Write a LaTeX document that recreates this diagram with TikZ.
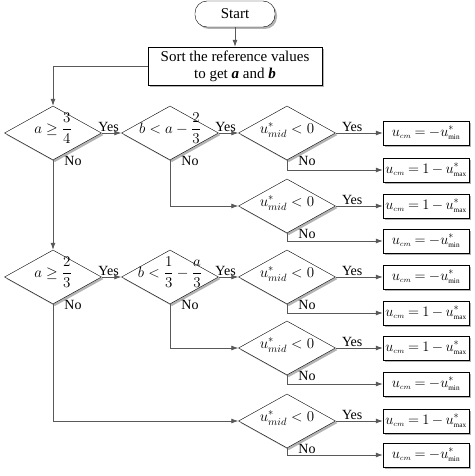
\RequirePackage{fix-cm}
\documentclass[tikz,border=0pt]{standalone}
\usepackage{amsmath}
\usepackage{fontspec}
\setmainfont{Liberation Serif}
\usetikzlibrary{positioning, shapes.geometric, shadows, arrows.meta}
\newcommand{\dtext}[1]{\smash{\makebox[0pt]{#1}}}
\newcommand{\tinysub}[1]{{\scriptscriptstyle #1}}

\begin{document}
\begin{tikzpicture}[x=1pt, y=-1pt,
font=\fontsize{15}{17}\selectfont,
shade/.style={drop shadow={shadow xshift=2pt, shadow yshift=-2pt, fill=black!50, opacity=0.6}},
terminal/.style={rectangle, rounded corners=12pt, draw, fill=white, minimum width=80pt, minimum height=26pt, shade},
process/.style={rectangle, align=center, draw, fill=white, minimum width=174pt, minimum height=38pt, inner sep=1pt, shade},
decision/.style={diamond, draw, fill=white, minimum width=97pt, minimum height=54pt, inner sep=0pt, shade},
result/.style={rectangle, draw, fill=white, minimum width=86pt, minimum height=24pt, inner sep=0pt, shade,
  font=\fontsize{14.5}{16}\selectfont, execute at begin node={\thickmuskip=4mu\medmuskip=3mu}},
flow/.style={-{Latex[length=7pt,width=5pt]}, draw=black!65, line width=0.8pt},
yeslabel/.style={above, pos=0.35, inner sep=1pt, font=\fontsize{14}{16}\selectfont},
nolabel/.style={pos=0, anchor=west, xshift=10pt, yshift=-1pt, inner sep=1pt, font=\fontsize{14}{16}\selectfont},
]
\useasboundingbox (0,0) rectangle (474,476);

%Nodes
\node [terminal] (start) at (235,14) {Start};
\node [process] (sort) at (235,66) {Sort the reference values\\to get \textbf{\textit{a}} and \textbf{\textit{b}}};

\node [decision] (d1) at (53,133) {\dtext{$a\geq\dfrac{3}{4}$}};
\node [decision] (d2) at (170,133) {\dtext{$b<a-\dfrac{2}{3}$}};
\node [decision] (d3) at (287,133) {\dtext{$u^{*}_{mid}<0$}};
\node [decision] (d4) at (287,206) {\dtext{$u^{*}_{mid}<0$}};
\node [decision] (d5) at (53,277) {\dtext{$a\geq\dfrac{2}{3}$}};
\node [decision] (d6) at (170,277) {\dtext{$b<\dfrac{1}{3}-\dfrac{a}{3}$}};
\node [decision] (d7) at (287,277) {\dtext{$u^{*}_{mid}<0$}};
\node [decision] (d8) at (287,348) {\dtext{$u^{*}_{mid}<0$}};
\node [decision] (d9) at (287,421) {\dtext{$u^{*}_{mid}<0$}};

\node [result] (r1) at (426,133) {$u_{\tinysub{cm}}=-u^{*}_{\tinysub{\min}}$};
\node [result] (r2) at (426,170) {$u_{\tinysub{cm}}=1-u^{*}_{\tinysub{\max}}$};
\node [result] (r3) at (426,206) {$u_{\tinysub{cm}}=1-u^{*}_{\tinysub{\max}}$};
\node [result] (r4) at (426,241) {$u_{\tinysub{cm}}=-u^{*}_{\tinysub{\min}}$};
\node [result] (r5) at (426,277) {$u_{\tinysub{cm}}=-u^{*}_{\tinysub{\min}}$};
\node [result] (r6) at (426,313) {$u_{\tinysub{cm}}=1-u^{*}_{\tinysub{\max}}$};
\node [result] (r7) at (426,348) {$u_{\tinysub{cm}}=1-u^{*}_{\tinysub{\max}}$};
\node [result] (r8) at (426,384) {$u_{\tinysub{cm}}=-u^{*}_{\tinysub{\min}}$};
\node [result] (r9) at (426,421) {$u_{\tinysub{cm}}=1-u^{*}_{\tinysub{\max}}$};
\node [result] (r10) at (426,455) {$u_{\tinysub{cm}}=-u^{*}_{\tinysub{\min}}$};

% Paths
\draw [flow] (start) -- (sort);
\draw [flow] (sort.west) -| (d1.north);

\draw [flow] (d1) -- node[yeslabel] {Yes} (d2);
\draw [flow] (d1.south) -- node[nolabel] {No} (d5.north);
\draw [flow] (d2) -- node[yeslabel] {Yes} (d3);
\draw [flow] (d2.south) |- node[nolabel] {No} (d4.west);
\draw [flow] (d3) -- node[yeslabel] {Yes} (r1);
\draw [flow] (d3.south) |- node[nolabel] {No} (r2.west);
\draw [flow] (d4) -- node[yeslabel] {Yes} (r3);
\draw [flow] (d4.south) |- node[nolabel] {No} (r4.west);

\draw [flow] (d5) -- node[yeslabel] {Yes} (d6);
\draw [flow] (d5.south) |- node[nolabel] {No} (d9.west);
\draw [flow] (d6) -- node[yeslabel] {Yes} (d7);
\draw [flow] (d6.south) |- node[nolabel] {No} (d8.west);
\draw [flow] (d7) -- node[yeslabel] {Yes} (r5);
\draw [flow] (d7.south) |- node[nolabel] {No} (r6.west);
\draw [flow] (d8) -- node[yeslabel] {Yes} (r7);
\draw [flow] (d8.south) |- node[nolabel] {No} (r8.west);
\draw [flow] (d9) -- node[yeslabel] {Yes} (r9);
\draw [flow] (d9.south) |- node[nolabel] {No} (r10.west);
\end{tikzpicture}
\end{document}
